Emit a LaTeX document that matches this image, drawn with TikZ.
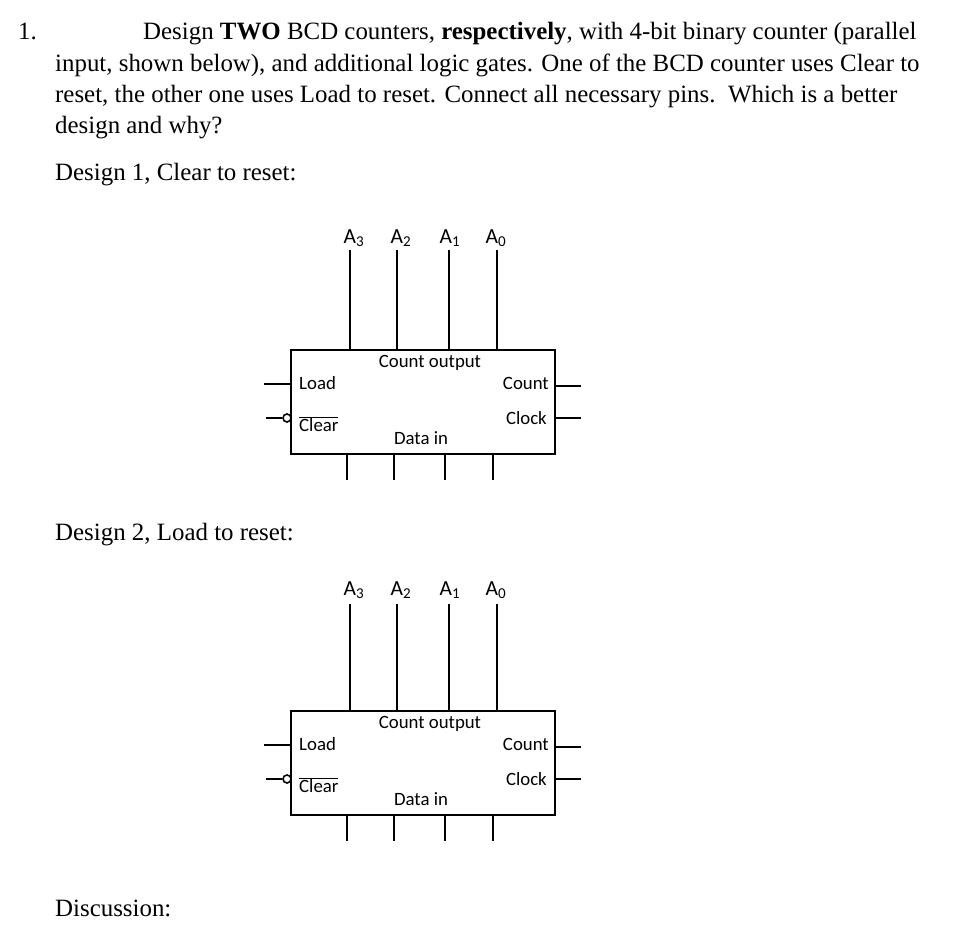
\documentclass[tikz,border=0pt]{standalone}
\usepackage{fontspec}
\setmainfont{Liberation Serif}
\newfontfamily\calfnt{Carlito}
\begin{document}
\begin{tikzpicture}[x=1pt,y=-1pt,
  txt/.style={anchor=base west,inner sep=0pt,font=\fontsize{24.9}{28}\selectfont},
  lbl/.style={inner sep=0pt,font=\calfnt\fontsize{18.8}{20}\selectfont},
  alab/.style={inner sep=0pt,font=\calfnt\fontsize{21.5}{22}\selectfont},
  wire/.style={line width=2.2pt},
  box/.style={draw,line width=2.2pt,minimum width=264pt,minimum height=104pt,inner sep=0pt}]
\useasboundingbox (0,0) rectangle (964,941);
\node[txt] (n1) at (18,40) {1.};
\node[txt] (l1) at (143,40) {Design \textbf{TWO} BCD counters, \textbf{respectively}, with 4-bit binary counter (parallel};
\node[txt] (l2) at (55,72) {input, shown below), and additional logic gates. One of the BCD counter uses Clear to};
\node[txt] (l3) at (55,103) {reset, the other one uses Load to reset. Connect all necessary pins.\ \ Which is a better};
\node[txt] (l4) at (55,134) {design and why?};
\node[txt] (d1) at (55,181) {Design 1, Clear to reset:};
\node[txt] (d2) at (55,540) {Design 2, Load to reset:};
\node[txt] (d3) at (55,916) {Discussion:};
\foreach \k/\dy/\ay/\ty in {a/0/238/250, b/361/590/604}{
  \begin{scope}[yshift=-\dy pt]
  \node[box] (\k box) at (423,402) {};
  \node[lbl] (\k co) at (430,363) {Count output};
  \node[lbl,anchor=west] (\k ld) at (299,383) {Load};
  \node[lbl,anchor=west] (\k cl) at (299,424) {$\overline{\mbox{Clear}}$};
  \node[lbl,anchor=east] (\k ct) at (549,383) {Count};
  \node[lbl,anchor=east] (\k ck) at (547,418) {Clock};
  \node[lbl] (\k di) at (421,438) {Data in};
  \foreach \i/\x/\xi in {3/350/347,2/397/394,1/449/445,0/497/493}{
    \coordinate (\k t\i) at (\x,350);
    \coordinate (\k u\i) at (\x,\ty-\dy);
    \draw[wire] (\k t\i) -- (\k u\i);
    \coordinate (\k bi\i) at (\xi,454);
    \coordinate (\k be\i) at (\xi,480);
    \draw[wire] (\k bi\i) -- (\k be\i);
  }
  \node[alab] (\k A3) at (354,\ay-\dy) {A\textsubscript{3}};
  \node[alab] (\k A2) at (401,\ay-\dy) {A\textsubscript{2}};
  \node[alab] (\k A1) at (450,\ay-\dy) {A\textsubscript{1}};
  \node[alab] (\k A0) at (496,\ay-\dy) {A\textsubscript{0}};
  \coordinate (\k p1) at (264,384); \coordinate (\k q1) at (291,384);
  \draw[wire] (\k p1) -- (\k q1);
  \node[draw,circle,line width=1.6pt,minimum size=8pt,inner sep=0pt] (\k bub) at (287,418) {};
  \coordinate (\k p2) at (266,418);
  \draw[wire] (\k p2) -- (\k bub);
  \coordinate (\k p3) at (555,386); \coordinate (\k q3) at (581,386);
  \draw[wire] (\k p3) -- (\k q3);
  \coordinate (\k p4) at (555,418); \coordinate (\k q4) at (581,418);
  \draw[wire] (\k p4) -- (\k q4);
  \end{scope}}
\end{tikzpicture}
\end{document}
